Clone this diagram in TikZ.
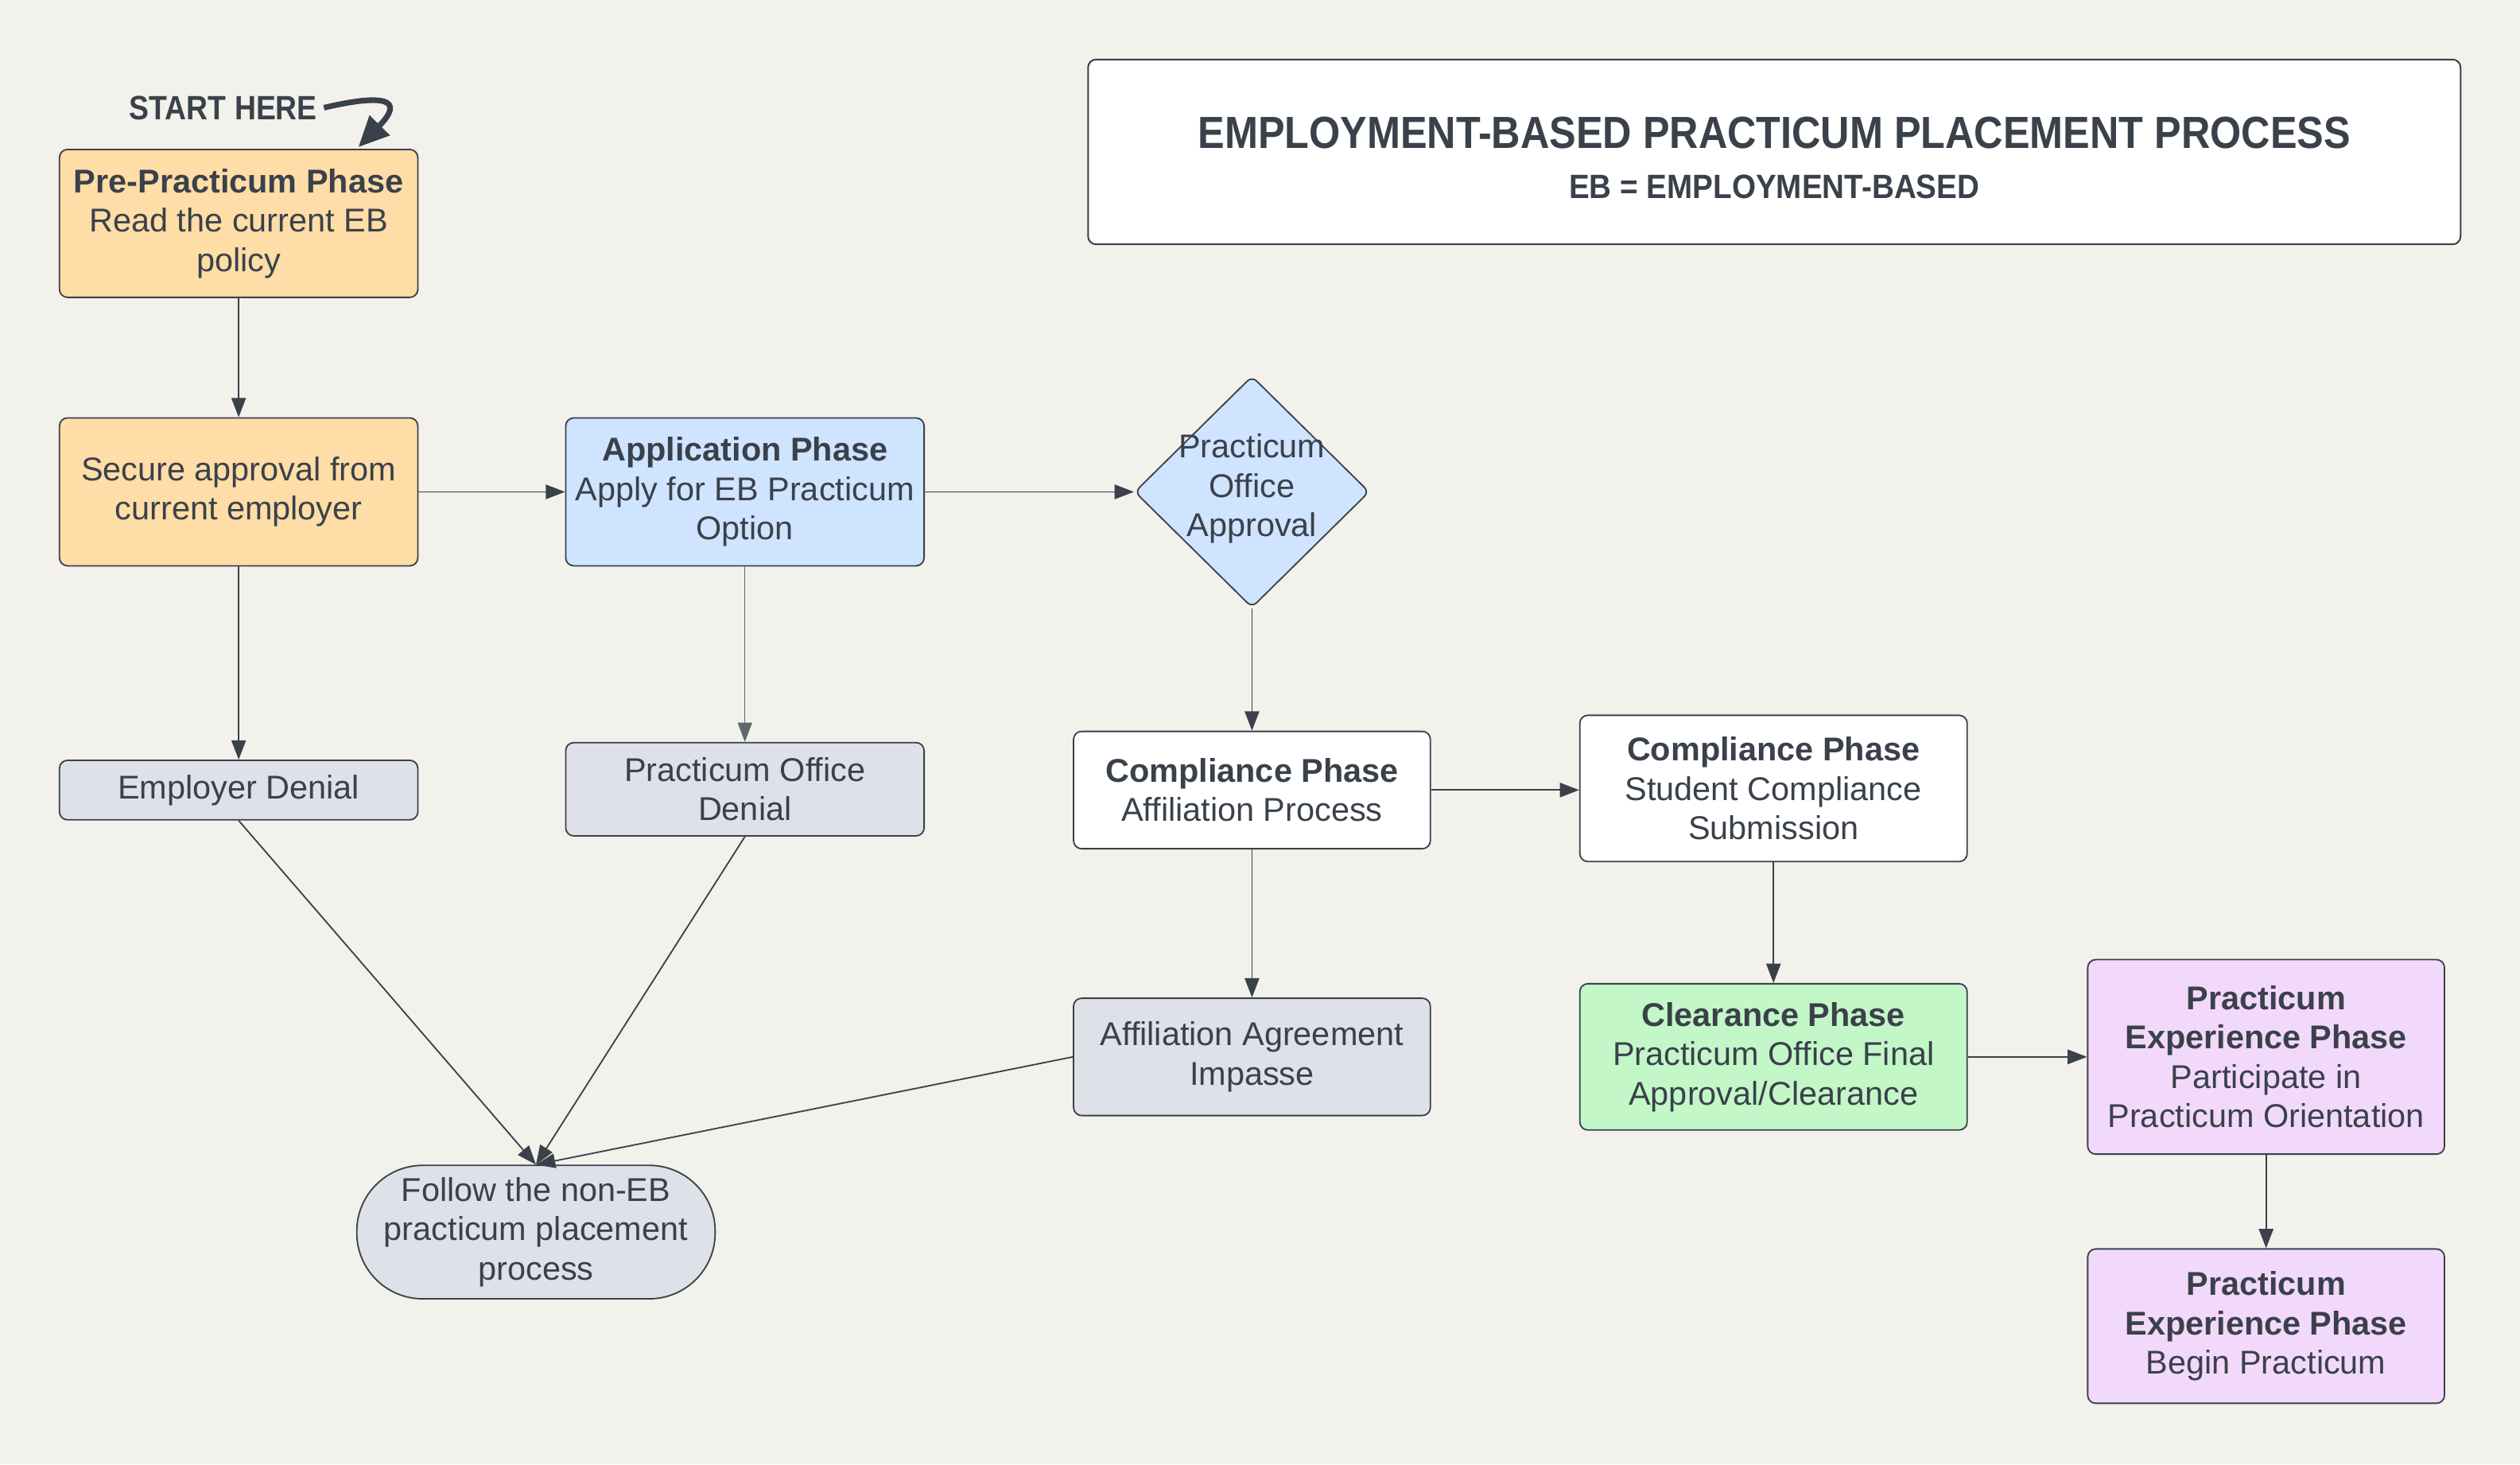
\documentclass[tikz,border=0pt]{standalone}
\usepackage{fontspec}
\setmainfont{Liberation Sans}
\usetikzlibrary{arrows.meta,shapes.geometric}
\definecolor{bg}{RGB}{242,241,235}
\definecolor{ink}{RGB}{58,65,74}
\definecolor{orangef}{RGB}{255,221,166}
\definecolor{bluef}{RGB}{207,228,255}
\definecolor{grayf}{RGB}{222,225,231}
\definecolor{greenf}{RGB}{195,247,200}
\definecolor{purplef}{RGB}{242,217,252}
\begin{document}
\begin{tikzpicture}[x=1pt,y=-1pt,
  box/.style={draw=ink, line width=0.9pt, rounded corners=5pt, align=center, text=ink,
    font=\fontsize{20.5}{24.5}\selectfont, inner sep=2pt, minimum width=223pt},
  conn/.style={draw=ink, line width=0.9pt, -{Triangle[length=12pt,width=9pt]}},
  thinconn/.style={draw=ink!80, line width=0.6pt, -{Triangle[length=12pt,width=9pt]}},
  hand/.style={text=ink, inner sep=0pt},
]
\fill[bg] (0,0) rectangle (1568,911);
\useasboundingbox (0,0) rectangle (1568,911);

% title
\node[draw=ink, line width=1pt, fill=white, rounded corners=5pt, minimum width=854pt, minimum height=115pt] (ttl) at (1104,94.5) {};
\node[hand] (ttl1) at (1104,82.5) {\scalebox{0.89}[1]{\fontsize{28}{30}\selectfont\bfseries EMPLOYMENT-BASED PRACTICUM PLACEMENT PROCESS}};
\node[hand] (ttl2) at (1104,116) {\scalebox{0.91}[1]{\fontsize{21}{23}\selectfont\bfseries EB = EMPLOYMENT-BASED}};

% start here
\node[hand] (start) at (139,67) {\scalebox{0.88}[1]{\fontsize{21}{23}\selectfont\bfseries START HERE}};
\coordinate (sttip) at (223,91.5);
\draw[ink, line width=3.5pt, -{Triangle[length=19pt,width=17pt]}] ([xshift=4pt]start.east) .. controls (240,58) and (252,62) .. (sttip);

% nodes
\node[box, fill=orangef, minimum height=92pt] (pre) at (148.5,139) {\textbf{Pre-Practicum Phase}\\Read the current EB\\policy};
\node[box, fill=orangef, minimum height=92pt] (sec) at (148.5,306) {Secure approval from\\current employer};
\node[box, fill=bluef, minimum height=92pt] (app) at (463.5,306) {\textbf{Application Phase}\\Apply for EB Practicum\\Option};
\node[diamond, draw=ink, line width=0.9pt, fill=bluef, minimum width=146pt, minimum height=144pt, inner sep=0pt, rounded corners=4pt] (dia) at (779,306) {};
\node[text=ink, align=center, font=\fontsize{20.5}{24.5}\selectfont, inner sep=0pt] (diat) at (779,304) {Practicum\\Office\\Approval};
\node[box, fill=grayf, minimum height=37pt] (emp) at (148.5,491.5) {Employer Denial};
\node[box, fill=grayf, minimum height=58pt] (pod) at (463.5,491) {Practicum Office\\Denial};
\node[box, fill=white, minimum width=222pt, minimum height=73pt] (caf) at (779,491.5) {\textbf{Compliance Phase}\\Affiliation Process};
\node[box, fill=white, minimum width=241pt, minimum height=91pt] (csc) at (1103.5,490.5) {\textbf{Compliance Phase}\\Student Compliance\\Submission};
\node[box, fill=grayf, minimum width=222pt, minimum height=73pt] (imp) at (779,657.5) {Affiliation Agreement\\Impasse};
\node[box, fill=greenf, minimum width=241pt, minimum height=91pt] (clr) at (1103.5,657.5) {\textbf{Clearance Phase}\\Practicum Office Final\\Approval/Clearance};
\node[box, fill=purplef, minimum width=222pt, minimum height=121pt] (pe1) at (1410,657.5) {\textbf{Practicum}\\\textbf{Experience Phase}\\Participate in\\Practicum Orientation};
\node[box, fill=purplef, minimum width=222pt, minimum height=96pt] (pe2) at (1410,825) {\textbf{Practicum}\\\textbf{Experience Phase}\\Begin Practicum};
\node[box, fill=grayf, minimum height=83pt, rounded corners=41pt] (fol) at (333.5,766.5) {Follow the non-EB\\practicum placement\\process};

% connectors
\draw[conn] (pre) -- (sec);
\draw[conn] (sec) -- (app);
\draw[conn] (app) -- (dia);
\draw[conn] (sec) -- (emp);
\draw[thinconn] (app) -- (pod);
\draw[conn] (dia) -- (caf);
\draw[conn] (caf.east) -- (caf.east -| csc.west);
\draw[conn] (caf) -- (imp);
\draw[conn] (csc) -- (clr);
\draw[conn] (clr) -- (pe1);
\draw[conn] (pe1) -- (pe2);
\draw[conn] (emp.south) -- (fol.north);
\draw[conn] (pod.south) -- (fol.north);
\draw[conn] (imp.west) -- (fol.north);
\end{tikzpicture}
\end{document}
